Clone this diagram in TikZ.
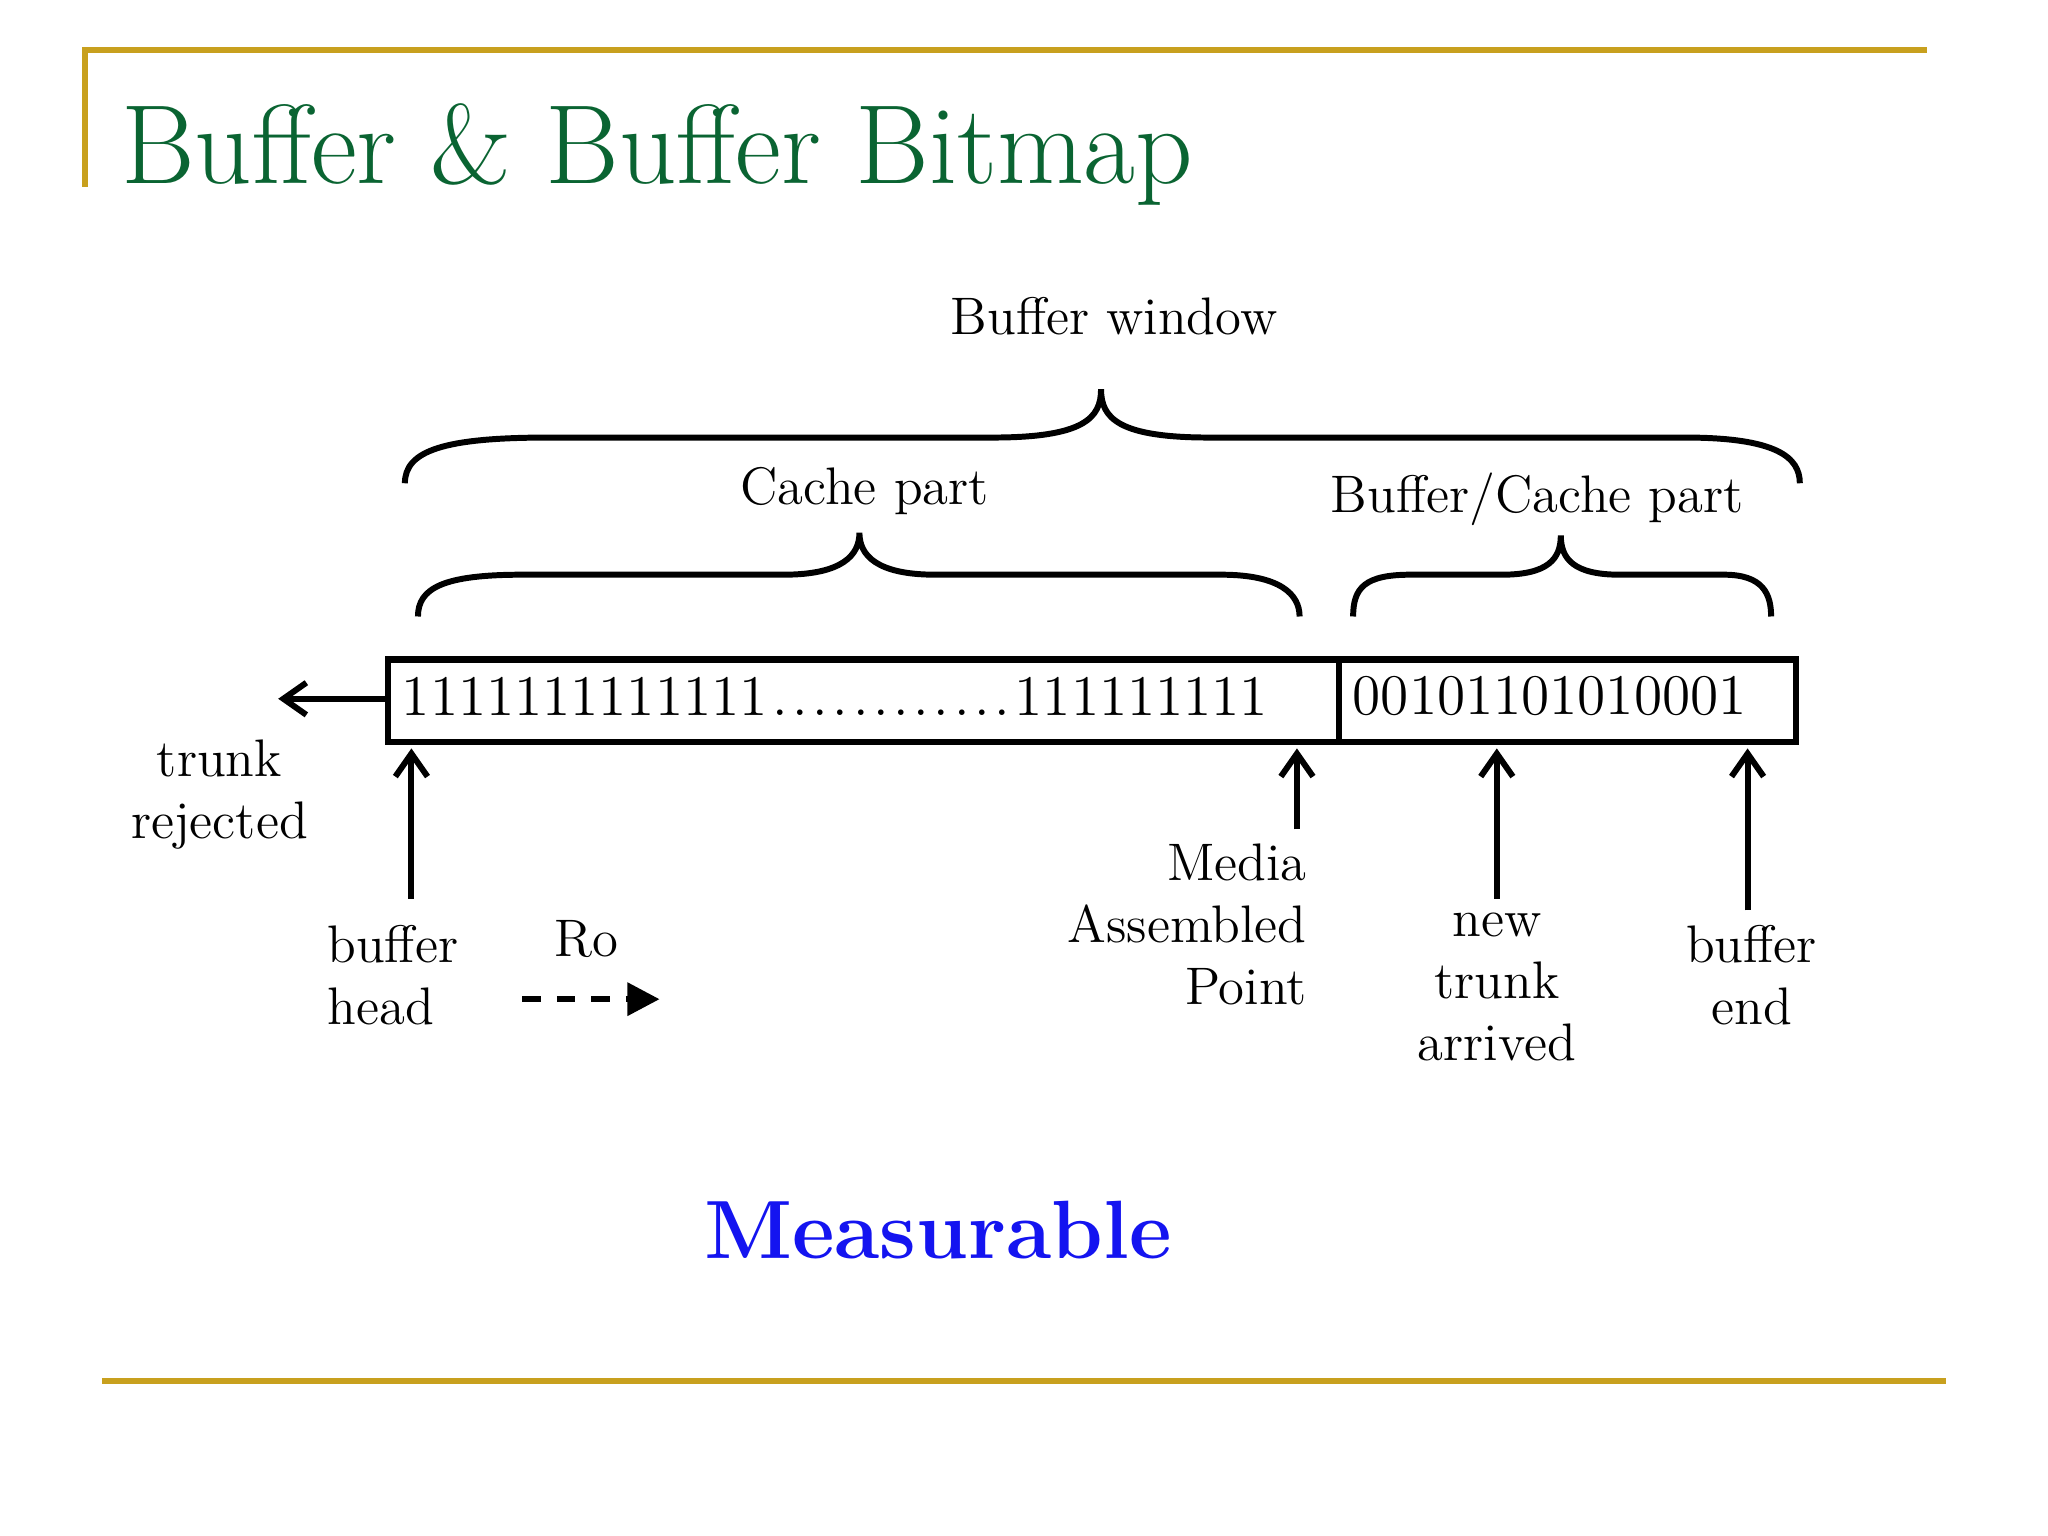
\documentclass[tikz,border=0pt]{standalone}
\usetikzlibrary{arrows.meta}
\begin{document}
\begin{tikzpicture}[x=0.01cm,y=-0.01cm,
  lbl/.style={font=\fontsize{11.5}{13.5}\selectfont, inner sep=0pt, align=center},
  brace/.style={line width=1.3pt},
  arr/.style={line width=1.3pt,-{Straight Barb[length=5pt,width=7pt]}},
  gold/.style={draw={rgb,255:red,200;green,160;blue,30},line width=1.3pt}]
\useasboundingbox[fill=white] (0,0) rectangle (1568,1176);
\draw[gold] (65,143) -- (65,38) -- (1475,38);
\draw[gold] (78,1057) -- (1490,1057);
\node[anchor=west,inner sep=0pt,text={rgb,255:red,10;green,100;blue,50},font=\fontsize{24.5}{30}\selectfont] (title) at (92,118) {Buffer \& Buffer Bitmap};
% box
\draw[line width=1.4pt] (297,505) rectangle (1375,568);
\draw[line width=1.4pt] (1025,505) -- (1025,568);
\coordinate (bl) at (297,535);
\node[lbl,anchor=west,font=\fontsize{12.5}{15}\selectfont] (bits1) at (307,533) {1111111111111\kern1pt.\kern1pt.\kern1pt.\kern1pt.\kern1pt.\kern1pt.\kern1pt.\kern1pt.\kern1pt.\kern1pt.\kern1pt.\kern1pt.\kern1pt111111111};
\node[lbl,anchor=west,font=\fontsize{12.5}{15}\selectfont] (bits2) at (1035,533) {00101101010001};
% braces
\draw[brace] (310,370) .. controls (310,345) and (340,335) .. (420,335) -- (760,335) .. controls (830,335) and (843,320) .. (843,298)
  .. controls (843,320) and (856,335) .. (926,335) -- (1290,335) .. controls (1360,335) and (1378,350) .. (1378,370);
\draw[brace] (320,472) .. controls (320,450) and (340,440) .. (400,440) -- (600,440) .. controls (645,440) and (658,425) .. (658,408)
  .. controls (658,425) and (671,440) .. (716,440) -- (935,440) .. controls (980,440) and (995,455) .. (995,472);
\draw[brace] (1036,472) .. controls (1036,450) and (1045,440) .. (1080,440) -- (1150,440) .. controls (1185,440) and (1195,428) .. (1195,410)
  .. controls (1195,428) and (1205,440) .. (1240,440) -- (1320,440) .. controls (1350,440) and (1356,455) .. (1356,472);
\node[lbl] (bw) at (853,242) {Buffer window};
\node[lbl] (cp) at (662,376) {Cache part};
\node[lbl] (bcp) at (1177,382) {Buffer/Cache part};
% arrows
\coordinate (tl) at (213,535);
\draw[arr] (bl) -- (tl);
\node[lbl] (tr) at (168,608) {trunk\\rejected};
\coordinate (a1) at (315,573); \coordinate (b1) at (315,688);
\coordinate (a2) at (993,573); \coordinate (b2) at (993,635);
\coordinate (a3) at (1146,573); \coordinate (b3) at (1146,688);
\coordinate (a4) at (1338,573); \coordinate (b4) at (1338,697);
\draw[arr] (b1) -- (a1);
\draw[arr] (b2) -- (a2);
\draw[arr] (b3) -- (a3);
\draw[arr] (b4) -- (a4);
\node[lbl,align=left,anchor=north west] (bh) at (250,708) {buffer\\head};
\node[lbl] (ro) at (449,719) {Ro};
\coordinate (r1) at (400,765); \coordinate (r2) at (505,765);
\draw[line width=1.3pt,dash pattern=on 4pt off 3.5pt,-{Triangle[length=7pt,width=7pt]}] (r1) -- (r2);
\node[lbl,align=right,anchor=north east] (map) at (1001,645) {Media\\Assembled\\Point};
\node[lbl,anchor=north] (nta) at (1146,698) {new\\trunk\\arrived};
\node[lbl,anchor=north] (be) at (1341,708) {buffer\\end};
\node[inner sep=0pt,text={rgb,255:red,20;green,20;blue,240},font=\fontsize{18}{22}\selectfont\bfseries] (meas) at (718,942) {Measurable};
\end{tikzpicture}
\end{document}
